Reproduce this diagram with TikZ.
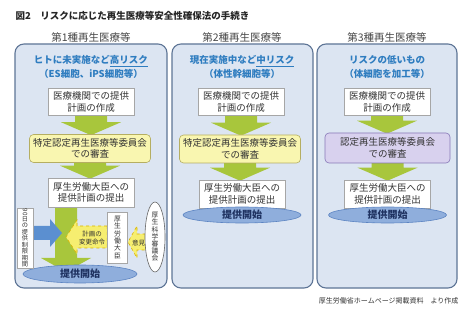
\documentclass[tikz,border=0pt]{standalone}
\usepackage{fontspec}
\newfontfamily\jp{Noto Sans CJK JP}
\usetikzlibrary{shapes.geometric,calc}
\definecolor{panelfill}{HTML}{DCE5F2}
\definecolor{panelline}{HTML}{5E7596}
\definecolor{subblue}{HTML}{2F7DC0}
\definecolor{greenarr}{HTML}{A8C63C}
\definecolor{yelbox}{HTML}{F9F6B0}
\definecolor{yelline}{HTML}{B5AE62}
\definecolor{purbox}{HTML}{D8D1EE}
\definecolor{purline}{HTML}{8878B8}
\definecolor{ellfill}{HTML}{8FAEDC}
\definecolor{ellline}{HTML}{5C84C2}
\definecolor{navy}{HTML}{1E3160}
\definecolor{txt}{HTML}{333333}
\definecolor{bluearr}{HTML}{5B8FD0}
\definecolor{dashyel}{HTML}{F6EE70}
\definecolor{dashline}{HTML}{D9B300}
\pgfdeclarelayer{panel}\pgfdeclarelayer{arrows}
\pgfsetlayers{panel,arrows,main}
\newcommand\garrow[2]{%
  \path[fill=greenarr] let \p1=(#1.south), \p2=(#2.north) in
  (\x1-16pt,\y1+1pt) -- (\x1+16pt,\y1+1pt) -- (\x1+16pt,\y2+12pt) --
  (\x1+30pt,\y2+12pt) -- (\x1,\y2-1pt) -- (\x1-30pt,\y2+12pt) --
  (\x1-16pt,\y2+12pt) -- cycle;}
\begin{document}
\begin{tikzpicture}[x=1pt,y=-1pt,
  panelbox/.style={draw=panelline,fill=panelfill,rounded corners=9pt,line width=1.1pt,minimum width=#1,minimum height=244,inner sep=0},
  wbox/.style={draw=gray!70,fill=white,line width=0.6pt,minimum width=86,minimum height=27,inner sep=1pt,align=center,font=\jp\fontsize{9.5}{11.5}\selectfont,text=txt},
  ybox/.style={draw=yelline,fill=yelbox,rounded corners=4pt,line width=0.6pt,minimum width=121,minimum height=28,inner sep=1pt,align=center,font=\jp\fontsize{9.5}{11.5}\selectfont,text=txt},
  pbox/.style={ybox,draw=purline,fill=purbox},
  ell/.style={ellipse,draw=ellline,fill=ellfill,line width=0.6pt,minimum width=118,minimum height=16,inner sep=0,font=\jp\bfseries\fontsize{10}{12}\selectfont,text=navy},
  colhead/.style={font=\jp\fontsize{10.5}{12}\selectfont,text=txt!90},
  subhead/.style={align=center,font=\jp\bfseries\fontsize{9.5}{14}\selectfont,text=subblue},
  vbox/.style={draw=gray!70,fill=white,line width=0.6pt,inner sep=0,align=center,text=txt},
  small/.style={font=\jp\fontsize{6.5}{7.2}\selectfont,text=txt,align=center,inner sep=0}
]
\useasboundingbox (0,0) rectangle (474,315);

% title
\node[anchor=west,font=\jp\bfseries\fontsize{9.5}{11}\selectfont,text=black!85] (title) at (12,16) {図2　リスクに応じた再生医療等安全性確保法の手続き};

% column heads
\node[colhead] (h1) at (91,37) {第1種再生医療等};
\node[colhead] (h2) at (242,37) {第2種再生医療等};
\node[colhead] (h3) at (387,37) {第3種再生医療等};

% panels
\begin{pgfonlayer}{panel}
\fill[white] (0,0) rectangle (474,315);
\node[panelbox=152] (p1) at (91,166) {};
\node[panelbox=141] (p2) at (242.5,166) {};
\node[panelbox=140] (p3) at (387,166) {};
\end{pgfonlayer}

% subheads
\node[subhead] (s1) at (91,67) {ヒトに未実施など\underline{高リスク}\\（ES細胞、iPS細胞等）};
\node[subhead] (s2) at (242,67) {現在実施中など\underline{中リスク}\\（体性幹細胞等）};
\node[subhead] (s3) at (387,67) {リスクの低いもの\\（体細胞を加工等）};

% panel 1
\node[wbox] (b11) at (91,102) {医療機関での提供\\計画の作成};
\node[ybox] (b12) at (90,148.5) {特定認定再生医療等委員会\\での審査};
\node[wbox,minimum height=29] (b13) at (91,192.5) {厚生労働大臣への\\提供計画の提出};
\node[ell,minimum width=114,minimum height=18] (e1) at (80,274) {提供開始};

% panel 2
\node[wbox] (b21) at (241,102) {医療機関での提供\\計画の作成};
\node[ybox] (b22) at (240,149) {特定認定再生医療等委員会\\での審査};
\node[wbox,minimum height=28] (b23) at (242,194) {厚生労働大臣への\\提供計画の提出};
\node[ell] (e2) at (242,215) {提供開始};

% panel 3
\node[wbox] (b31) at (387,102) {医療機関での提供\\計画の作成};
\node[pbox,minimum width=125,minimum height=30] (b32) at (387.5,148) {認定再生医療等委員会\\での審査};
\node[wbox,minimum height=28] (b33) at (387.5,194) {厚生労働大臣への\\提供計画の提出};
\node[ell] (e3) at (387.5,215) {提供開始};

% panel 1 lower part
\node[vbox,minimum width=16,minimum height=60,font=\jp\fontsize{6.2}{6.5}\selectfont] (lim) at (25,238)
  {\rotatebox[origin=c]{-90}{90}\\日\\の\\提\\供\\制\\限\\期\\間};
\node[vbox,minimum width=20,minimum height=51,font=\jp\fontsize{6.8}{7.3}\selectfont] (mhlw) at (117.5,237.5)
  {厚\\生\\労\\働\\大\\臣};
\node[ellipse,draw=gray!80!black,fill=white,line width=0.6pt,minimum width=20,minimum height=70,inner sep=0,align=center,font=\jp\fontsize{6.8}{7.2}\selectfont,text=txt] (council) at (155,237)
  {厚\\生\\科\\学\\審\\議\\会};
\coordinate (gtip) at (66,272);
\coordinate (btip) at (62,233);
\coordinate (ytip) at (66,237);
\coordinate (otip) at (128,242);
\node[small] (order) at (92,238) {計画の\\変更命令};
\node[small] (opin) at (138.5,243) {意見};

\begin{pgfonlayer}{arrows}
\garrow{b11}{b12}
\garrow{b12}{b13}
\garrow{b21}{b22}
\garrow{b22}{b23}
\garrow{b31}{b32}
\garrow{b32}{b33}
% big green arrow panel 1
\path[fill=greenarr] let \p1=(b13.south), \p2=(gtip) in
  (\x2-11pt,\y1+1pt) -- (\x2+11pt,\y1+1pt) -- (\x2+11pt,\y2+14pt) --
  (\x2+25pt,\y2+14pt) -- (\x2,\y2) -- (\x2-25pt,\y2+14pt) --
  (\x2-11pt,\y2+14pt) -- cycle;
% blue arrow
\path[fill=bluearr] let \p1=(lim.east), \p2=(btip) in
  (\x1,\y2+7pt) -- (\x2-12pt,\y2+7pt) -- (\x2-12pt,\y2+14pt) -- (\x2,\y2) --
  (\x2-12pt,\y2-14pt) -- (\x2-12pt,\y2-7pt) -- (\x1,\y2-7pt) -- cycle;
% dashed yellow arrow (change order)
\path[fill=dashyel,draw=dashline,dashed,line width=0.6pt] let \p1=(mhlw.west), \p2=(ytip) in
  (\x1,\y2+11pt) -- (\x2+11pt,\y2+11pt) -- (\x2+11pt,\y2+17pt) -- (\x2,\y2) --
  (\x2+11pt,\y2-17pt) -- (\x2+11pt,\y2-11pt) -- (\x1,\y2-11pt) -- cycle;
% dashed yellow arrow (opinion)
\path[fill=dashyel,draw=dashline,dashed,line width=0.6pt] let \p1=(council.west), \p2=(otip) in
  (\x1+1pt,\y2+8pt) -- (\x2+9pt,\y2+8pt) -- (\x2+9pt,\y2+16pt) -- (\x2,\y2) --
  (\x2+9pt,\y2-16pt) -- (\x2+9pt,\y2-8pt) -- (\x1+1pt,\y2-8pt) -- cycle;
\end{pgfonlayer}

% footer
\node[anchor=east,font=\jp\fontsize{7}{8}\selectfont,text=txt] (src) at (462,301) {厚生労働省ホームページ掲載資料　より作成};
\end{tikzpicture}
\end{document}
